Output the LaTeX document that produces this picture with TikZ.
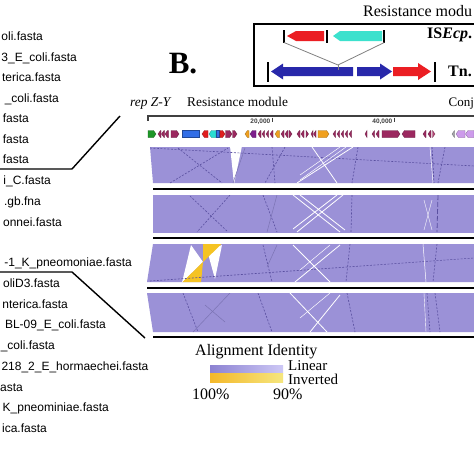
\documentclass[tikz,border=0pt]{standalone}
\usepackage{fontspec}
\setmainfont{Liberation Serif}
\newfontfamily\lsans{Liberation Sans}
\definecolor{pan}{RGB}{155,145,215}
\definecolor{dpur}{RGB}{90,80,160}
\definecolor{gmar}{RGB}{155,40,95}
\definecolor{gpink}{RGB}{185,70,120}
\definecolor{ggray}{RGB}{165,165,170}
\definecolor{ggreen}{RGB}{30,150,40}
\definecolor{gblue}{RGB}{50,110,230}
\definecolor{gred}{RGB}{225,30,30}
\definecolor{gcyan}{RGB}{40,220,210}
\definecolor{gorange}{RGB}{240,160,30}
\definecolor{gpurple}{RGB}{125,30,140}
\definecolor{glav}{RGB}{205,155,235}
\definecolor{bnavy}{RGB}{40,40,170}
\definecolor{bred}{RGB}{235,30,35}
\definecolor{bcyan}{RGB}{60,225,205}
\definecolor{yel}{RGB}{245,195,35}
\newcommand{\geneR}[3]{\fill[#3,draw=#3!65!black,line width=0.3pt] (#1,130.5) -- ({max(#1,#2-2.5)},130.5) -- (#2,134) -- ({max(#1,#2-2.5)},137.5) -- (#1,137.5) -- cycle;}
\newcommand{\geneL}[3]{\fill[#3,draw=#3!65!black,line width=0.3pt] (#2,130.5) -- ({min(#2,#1+2.5)},130.5) -- (#1,134) -- ({min(#2,#1+2.5)},137.5) -- (#2,137.5) -- cycle;}
\tikzset{
  lbl/.style={anchor=base east,inner sep=0pt,font=\lsans\fontsize{12}{14}\selectfont},
  srf/.style={anchor=base west,inner sep=0pt,font=\fontsize{13.4}{15}\selectfont},
  big/.style={anchor=base west,inner sep=0pt,font=\fontsize{16}{18}\selectfont},
  leg/.style={anchor=base west,inner sep=0pt,font=\fontsize{15}{15}\selectfont},
  bbig/.style={anchor=base west,inner sep=0pt,font=\bfseries\fontsize{16}{18}\selectfont},
  ruler/.style={anchor=base east,inner sep=0pt,font=\lsans\bfseries\fontsize{6.5}{7}\selectfont,text=black!75},
  panel/.style={fill=pan},
  dl/.style={draw=dpur,line width=0.6pt,dash pattern=on 2pt off 1.5pt},
  sl/.style={draw=dpur!80,line width=0.5pt},
  wl/.style={draw=white,line width=0.8pt},
  seqbar/.style={line width=2pt,black},
  conn/.style={line width=1.4pt,black},
  bar/.style={line width=2pt,black},
}
\begin{document}
\begin{tikzpicture}[x=1pt,y=-1pt]
\useasboundingbox (0,0) rectangle (474,474);
\fill[white] (0,0) rectangle (474,474);

% left labels
\node[lbl] (t1) at (43,40.3) {oli.fasta};
\node[lbl] (t2) at (77,61.3) {3\_E\_coli.fasta};
\node[lbl] (t3) at (61,81.3) {terica.fasta};
\node[lbl] (t4) at (59,102.3) {\_coli.fasta};
\node[lbl] (t5) at (29,122.3) {fasta};
\node[lbl] (t6) at (29,143.3) {fasta};
\node[lbl] (t7) at (29,163.3) {fasta};
\node[lbl] (t8) at (51,184.3) {i\_C.fasta};
\node[lbl] (t9) at (41,205.3) {.gb.fna};
\node[lbl] (t10) at (62,226.3) {onnei.fasta};
\node[lbl] (t11) at (132,266.3) {-1\_K\_pneomoniae.fasta};
\node[lbl] (t12) at (60,287.3) {oliD3.fasta};
\node[lbl] (t13) at (68,308.3) {nterica.fasta};
\node[lbl] (t14) at (106,328.3) {BL-09\_E\_coli.fasta};
\node[lbl] (t15) at (55,349.3) {\_coli.fasta};
\node[lbl] (t16) at (148.5,370.3) {218\_2\_E\_hormaechei.fasta};
\node[lbl] (t17) at (23,391.3) {asta};
\node[lbl] (t18) at (109,411.3) {K\_pneominiae.fasta};
\node[lbl] (t19) at (47,432.3) {ica.fasta};

% zoom connectors
\coordinate (l1a) at (0,169); \coordinate (l1b) at (72,169); \coordinate (l1c) at (120,116);
\coordinate (l2a) at (0,272); \coordinate (l2b) at (72,272); \coordinate (l2c) at (145,338);
\draw[conn] (l1a) -- (l1b) -- (l1c);
\draw[conn] (l2a) -- (l2b) -- (l2c);

% B label
\node[anchor=base,inner sep=0pt,font=\bfseries\fontsize{31}{31}\selectfont] (B) at (183,73) {B.};

% inset box
\node[big] (rmtop) at (363,16) {Resistance modu};
\draw[line width=1.6pt] (474,24) -- (254,24) -- (254,86) -- (474,86);
\node[bbig] (isecp) at (427,38) {IS\textit{Ecp}.};
\node[bbig] (tn) at (448,76.5) {Tn.};
% top row
\fill[bred] (287,36) -- (296,31) -- (324,31) -- (324,41) -- (296,41) -- cycle;
\fill[bcyan] (333,36) -- (340,31) -- (382,31) -- (382,41) -- (340,41) -- cycle;
\coordinate (b1t) at (284,30); \coordinate (b1) at (284,42.5);
\coordinate (b2t) at (326.7,30); \coordinate (b2) at (326.7,42.5);
\coordinate (b3t) at (384.3,30); \coordinate (b3) at (384.3,42.5);
\draw[bar] (b1t) -- (b1); \draw[bar] (b2t) -- (b2); \draw[bar] (b3t) -- (b3);
% bottom row
\fill[bnavy] (271,71.5) -- (283,63.5) -- (283,67) -- (353,67) -- (353,76) -- (283,76) -- (283,79.5) -- cycle;
\fill[bnavy] (357,67) -- (380,67) -- (380,63.5) -- (392,71.5) -- (380,79.5) -- (380,76) -- (357,76) -- cycle;
\fill[bred] (393,67) -- (418,67) -- (418,63) -- (431,71.5) -- (418,80) -- (418,76) -- (393,76) -- cycle;
\coordinate (b4t) at (268,62); \coordinate (b4) at (268,82);
\coordinate (b5t) at (435,62); \coordinate (b5) at (435,82);
\draw[bar] (b4t) -- (b4); \draw[bar] (b5t) -- (b5);
\coordinate (j) at (338,65); \coordinate (jb) at (338,70);
\draw[gray,line width=0.8pt] (b1) -- (j) -- (b3);
\draw[gray,line width=1pt] (j) -- (jb);

% track labels
\node[srf,font=\itshape\fontsize{13.4}{15}\selectfont] (rep) at (130,106) {rep Z-Y};
\node[srf] (rm) at (187,106) {Resistance module};
\node[srf,font=\fontsize{13}{15}\selectfont] (conj) at (448.5,106) {Conj};

% ruler
\coordinate (r0) at (148,116); \coordinate (r1) at (474,116);
\draw[line width=2pt,black!75] (r0) -- (r1);
\draw[line width=1.2pt,black!75] (148,115) -- (148,121);
\node[ruler] (k20) at (270.5,123) {20,000};
\node[ruler] (k40) at (392.5,123) {40,000};
\draw[line width=0.7pt,black!75] (272,117.5) -- (272,122);
\draw[line width=0.7pt,black!75] (394,117.5) -- (394,122);

% genes
\geneR{148}{156}{ggreen}
\geneL{158}{161}{gmar}\geneL{161.5}{164.5}{gmar}\geneL{165}{168.5}{gmar}
\geneR{171}{179}{gmar}
\fill[gblue,draw=gblue!65!black,line width=0.3pt] (182,130.5) rectangle (199,137.5);
\geneL{202}{208}{gred}
\geneL{209}{216}{gcyan}
\fill[gblue,draw=gblue!65!black,line width=0.3pt] (216.5,130.5) rectangle (219.5,137.5);
\geneR{220}{225}{gred}
\geneR{225.5}{232}{gmar}\geneR{232.5}{237}{gmar}
\geneL{245}{249}{gorange}
\geneL{250}{256}{gpurple}
\geneL{258}{261}{gmar}\geneL{262}{264.5}{gmar}\geneL{266}{268.5}{gmar}\geneL{270}{273}{gmar}
\geneL{275}{279.5}{gorange}
\geneL{281}{284}{gmar}\geneL{285}{288}{gmar}\geneR{289}{292}{gmar}
\geneL{297}{300}{gmar}\geneL{301}{304}{gmar}\geneR{306}{308.5}{gmar}
\geneL{311}{313}{gmar}\geneL{313.5}{316}{gmar}
\geneR{318}{329}{gorange}
\geneL{333}{335.5}{gmar}\geneL{337}{339.5}{gmar}\geneL{341}{343.5}{gmar}\geneL{345}{347.5}{gmar}\geneL{349}{351.5}{gmar}
\geneL{365}{367}{gmar}
\geneL{372}{374.5}{gmar}\geneL{376}{379}{gmar}
\geneR{382}{400}{gmar}
\geneL{402}{415}{gmar}
\geneL{423}{426}{gmar}\geneL{428}{431}{gmar}\geneR{432.5}{435}{gpink}
\geneL{452}{454.5}{ggray}
\geneL{456}{465}{glav}\geneL{465.5}{474}{glav}

% panel 1
\begin{scope}
\path[clip] (150,147) -- (474,147) -- (474,183) -- (153,183) -- cycle;
\fill[panel] (140,140) rectangle (480,190);
\fill[white] (230,146) -- (242,146) -- (234,184) -- cycle;
\draw[dl] (150,148) -- (474,166);
\draw[dl] (170,183) -- (228,148);
\draw[dl] (178,148) -- (222,183);
\draw[sl] (245,148) -- (233,183);
\draw[dl] (272,147) -- (275,183);
\draw[dl] (285,147) -- (265,183);
\draw[wl] (312,147) -- (337,183);
\draw[wl] (353,147) -- (297,183);
\draw[wl,line width=0.5pt] (346,147) -- (300,180);
\draw[wl,line width=0.5pt] (340,147) -- (300,175);
\draw[dl] (358,147) -- (352,183);
\draw[dl] (445,147) -- (438,183);
\draw[wl,line width=0.5pt] (430,147) -- (433,183);
\draw[dl,line width=0.8pt] (432,147) -- (434,183);
\end{scope}
\draw[seqbar] (153,189) -- (474,189);

% panel 2
\begin{scope}
\path[clip] (153,195) -- (474,195) -- (474,232) -- (153,232) -- cycle;
\fill[panel] (140,190) rectangle (480,240);
\draw[dl] (190,196) -- (228,232);
\draw[dl] (230,195) -- (197,232);
\draw[dl] (263,195) -- (277,232);
\draw[sl] (277,195) -- (267,232);
\draw[wl] (293,195) -- (340,232);
\draw[wl] (300,195) -- (345,230);
\draw[wl] (343,195) -- (297,232);
\draw[wl] (337,195) -- (293,229);
\draw[dl] (352,195) -- (351,232);
\draw[dpur,line width=0.8pt,dash pattern=on 5pt off 2pt] (438,195) -- (437,232);
\draw[wl,line width=0.4pt] (424,200) -- (432,230);
\draw[wl,line width=0.4pt] (432,200) -- (424,230);
\end{scope}
\draw[seqbar] (153,238) -- (474,238);

% panel 3
\begin{scope}
\path[clip] (153,244) -- (474,244) -- (474,282) -- (147,282) -- cycle;
\fill[panel] (140,240) rectangle (480,290);
\fill[white] (191,245) -- (203,262) -- (182,282.5) -- cycle;
\fill[white] (207,250) -- (222,245) -- (215,279) -- cycle;
\fill[yel] (203,243.5) -- (222,243.5) -- (203,262) -- cycle;
\fill[yel] (182,282.5) -- (201,282.5) -- (203,262) -- cycle;
\draw[dl] (150,281) -- (474,258);
\draw[dl] (263,245) -- (272,282);
\draw[sl] (277,245) -- (267,267);
\draw[wl] (293,245) -- (330,282);
\draw[wl] (340,245) -- (295,282);
\draw[wl,line width=0.5pt] (330,245) -- (300,270);
\draw[dl] (350,244) -- (346,282);
\draw[dl] (437,244) -- (433,282);
\draw[wl,line width=0.5pt] (423,244) -- (426,282);
\end{scope}
\draw[seqbar] (147,288) -- (474,288);

% panel 4
\begin{scope}
\path[clip] (147,293) -- (474,293) -- (474,332) -- (153,332) -- cycle;
\fill[panel] (140,290) rectangle (480,340);
\draw[dl] (183,293) -- (198,332);
\draw[sl] (230,293) -- (193,332);
\draw[sl] (205,305) -- (225,322);
\draw[dl] (258,293) -- (272,332);
\draw[wl] (290,293) -- (327,332);
\draw[wl] (340,295) -- (310,332);
\draw[wl,line width=0.5pt] (330,293) -- (300,318);
\draw[dl] (347,293) -- (355,332);
\draw[dl] (427,293) -- (430,332);
\draw[dl] (435,293) -- (440,332);
\draw[wl,line width=0.4pt] (424,293) -- (426,332);
\end{scope}
\draw[seqbar] (153,337) -- (474,337);

% legend
\node[big] (ai) at (195,355) {Alignment Identity};
\shade[left color={rgb,255:red,140;green,130;blue,210},right color={rgb,255:red,205;green,200;blue,245}] (210,365) rectangle (283,373);
\shade[left color={rgb,255:red,244;green,184;blue,42},right color={rgb,255:red,245;green,230;blue,126}] (210,373) rectangle (283,382);
\node[leg] (lin) at (288,370.5) {Linear};
\node[leg] (inv) at (288,384.5) {Inverted};
\node[big] (p100) at (192,399) {100\%};
\node[big] (p90) at (273,399) {90\%};
\end{tikzpicture}
\end{document}
